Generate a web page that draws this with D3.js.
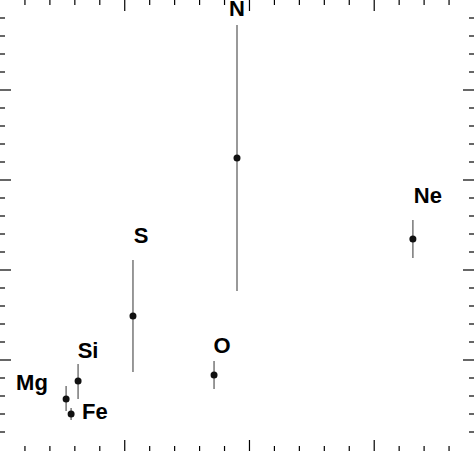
<!DOCTYPE html>
<html>
<head>
<meta charset="utf-8">
<script src="https://cdn.jsdelivr.net/npm/d3@7"></script>
<style>
  body { margin: 0; background: #fff; }
  text { font-family: "Liberation Sans", Arial, sans-serif; font-weight: bold; }
</style>
</head>
<body>
<div id="chart"></div>
<script>
// Elements and their values (arbitrary units)
const elements = ["Mg", "Fe", "Si", "S", "O", "N", "Ne"];
const xValues  = [2.65, 2.85, 3.13, 5.33, 8.58, 9.5, 16.55];
const yValues  = [2.83, 2.0, 3.83, 7.44, 4.17, 16.22, 11.72];
const yLow     = [2.17, 1.67, 2.83, 4.33, 3.39, 8.83, 10.67];
const yHigh    = [3.56, 2.33, 4.78, 10.56, 4.94, 23.61, 12.78];

const width = 474;
const height = 451;

// label offsets from each point (px)
const labelOffset = {
  Mg: [-50, -9], Fe: [11, 5], Si: [10, -23], S: [8, -73],
  O: [8, -22], N: [0, -142], Ne: [15, -36]
};

const svg = d3.select("#chart").append("svg")
  .attr("width", width)
  .attr("height", height);

const x = d3.scaleLinear().domain([0, 19]).range([0, 474]);
const y = d3.scaleLinear().domain([0, 25]).range([450, 0]);

const data = elements.map((e, i) => ({
  name: e, x: xValues[i], y: yValues[i], lo: yLow[i], hi: yHigh[i]
}));

// Tick marks on all four sides (no axis lines)
const xTicks = d3.range(1, 19);
const yTicks = d3.range(1, 25);
const tickLen = v => (v % 5 === 0 ? 11 : 5);

const ticks = svg.append("g").attr("stroke", "#000").attr("stroke-width", 1.2);
xTicks.forEach(v => {
  ticks.append("line").attr("x1", x(v)).attr("x2", x(v)).attr("y1", 0).attr("y2", tickLen(v));
  ticks.append("line").attr("x1", x(v)).attr("x2", x(v)).attr("y1", height).attr("y2", height - tickLen(v));
});
yTicks.forEach(v => {
  ticks.append("line").attr("y1", y(v)).attr("y2", y(v)).attr("x1", 0).attr("x2", tickLen(v));
  ticks.append("line").attr("y1", y(v)).attr("y2", y(v)).attr("x1", width).attr("x2", width - tickLen(v));
});

// Error bars
svg.selectAll(".err")
  .data(data)
  .enter()
  .append("line")
  .attr("x1", d => x(d.x))
  .attr("x2", d => x(d.x))
  .attr("y1", d => y(d.lo))
  .attr("y2", d => y(d.hi))
  .attr("stroke", "#777")
  .attr("stroke-width", 1.5);

// Points
svg.selectAll("circle")
  .data(data)
  .enter()
  .append("circle")
  .attr("cx", d => x(d.x))
  .attr("cy", d => y(d.y))
  .attr("r", 3.5)
  .attr("fill", "#111");

// Labels
svg.selectAll(".lbl")
  .data(data)
  .enter()
  .append("text")
  .attr("x", d => x(d.x) + labelOffset[d.name][0])
  .attr("y", d => y(d.y) + labelOffset[d.name][1])
  .attr("text-anchor", d => (d.name === "Mg" || d.name === "Fe") ? "start" : "middle")
  .attr("font-size", 22)
  .attr("fill", "#000")
  .text(d => d.name);
</script>
</body>
</html>
